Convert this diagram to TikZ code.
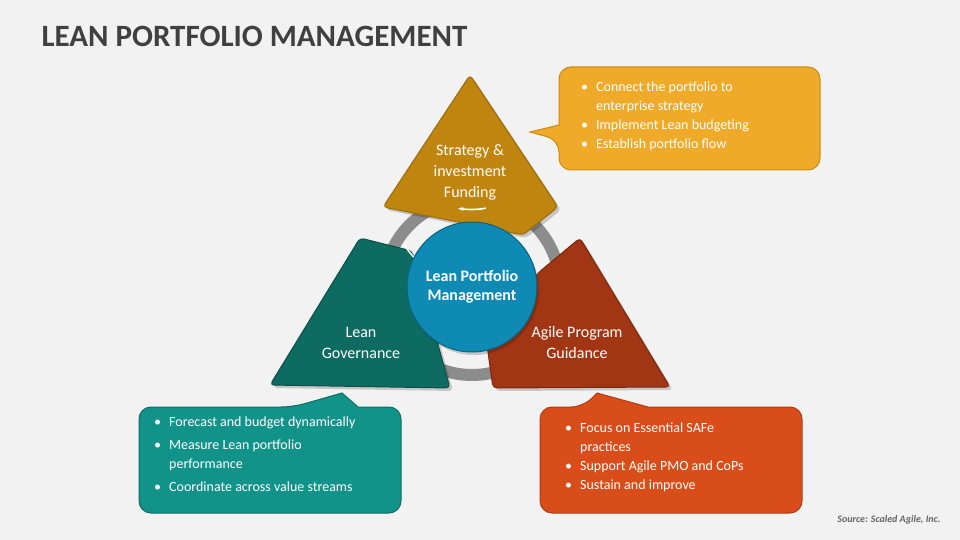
\documentclass[tikz,border=0pt]{standalone}
\usepackage{fontspec}
\setmainfont{Carlito}
\usetikzlibrary{arrows.meta}
\definecolor{bg}{HTML}{F2F2F2}
\definecolor{ttl}{HTML}{404040}
\definecolor{gold}{HTML}{C0850F}
\definecolor{goldD}{HTML}{9A6A0A}
\definecolor{orbox}{HTML}{EFAA2A}
\definecolor{orboxD}{HTML}{C98A12}
\definecolor{tealT}{HTML}{0E6B62}
\definecolor{tealD}{HTML}{0A4F48}
\definecolor{tealB}{HTML}{12938A}
\definecolor{redT}{HTML}{A23614}
\definecolor{redD}{HTML}{7A280F}
\definecolor{redB}{HTML}{D94D1A}
\definecolor{redBD}{HTML}{B03C12}
\definecolor{blueC}{HTML}{0E8AB5}
\definecolor{ringG}{HTML}{8C8C8C}
\tikzset{x=1pt,y=-1pt,
 tri/.style={rounded corners=4pt,line width=1pt},
 lbl/.style={text=white,font=\bfseries\fontsize{16}{19}\selectfont,align=center},
 blt/.style={text=white,font=\bfseries\fontsize{14}{17}\selectfont,align=left,anchor=north west,inner sep=0pt},
 shd/.style={fill=black,opacity=0.18}}
\newcommand{\itm}[1]{\makebox[15pt][l]{\textbullet}#1}
\newcommand{\cnt}[1]{\hspace*{15pt}#1}
\begin{document}
\begin{tikzpicture}
\fill[bg] (0,0) rectangle (960,540);
\node[anchor=west,text=ttl,font=\bfseries\fontsize{31}{36}\selectfont] (title) at (38,36) {LEAN PORTFOLIO MANAGEMENT};
% ring
\coordinate (c) at (472,287);
\draw[ringG,line width=12pt] (c) circle[radius=88];
\draw[white,line width=1.6pt,-{Stealth[length=5pt]}] ([shift={(40:82)}]c) arc[start angle=-40,end angle=-24,radius=82];
% triangles (shadows)
\fill[shd,rounded corners=4pt] (473,78)--(561,210)--(526,238)--(386,210)--cycle;
\fill[shd,rounded corners=4pt] (363,241)--(415,254)--(453,391)--(273,388)--cycle;
\fill[shd,rounded corners=4pt] (583,241)--(673,390)--(496,391)--(490,348)--(541,276)--cycle;
\draw[tri,fill=gold,draw=goldD] (470,75)--(558,207)--(523,235)--(383,207)--cycle;
\draw[tri,fill=tealT,draw=tealD] (360,238)--(412,251)--(450,388)--(270,385)--cycle;
\draw[tri,fill=redT,draw=redD] (580,238)--(670,387)--(493,388)--(487,345)--(538,273)--cycle;
% white arrow on ring bottom and arc top-left (visible segments)
\draw[white,line width=1.6pt,-{Stealth[length=5pt]}] ([shift={(-80:80)}]c) arc[start angle=80,end angle=100,radius=80];
\draw[white,line width=1.6pt] ([shift={(-148:80)}]c) arc[start angle=148,end angle=128,radius=80];
% center circle
\fill[black,opacity=0.18] (474,290) circle[radius=65];
\node[circle,fill=blueC,draw=blueC!70!black,line width=1pt,minimum size=130pt,inner sep=0pt] (ctr) at (c) {};
\node[lbl] (ctrl) at (c) {Lean Portfolio\\Management};
\node[lbl,font=\fontsize{16}{21}\selectfont] (t1) at (470,172) {Strategy \&\\investment\\Funding};
\node[lbl,font=\fontsize{16}{21}\selectfont] (t2) at (361,343) {Lean\\Governance};
\node[lbl,font=\fontsize{16}{21}\selectfont] (t3) at (577,343) {Agile Program\\Guidance};
% callouts
\draw[fill=orbox,draw=orboxD,line width=1pt,rounded corners=12pt] (559,67)--(820,67)--(820,170)--(559,170)--(559,140)[sharp corners]--(530,132)--(559,125)[rounded corners=12pt]--cycle;
\node[blt,font=\fontsize{14}{19}\selectfont] (b1) at (581,82) {\itm{Connect the portfolio to}\\\cnt{enterprise strategy}\\\itm{Implement Lean budgeting}\\\itm{Establish portfolio flow}};
\draw[fill=tealB,draw=tealB!75!black,line width=1pt,rounded corners=12pt] (139,407)--(293,407)[sharp corners]--(342,393)--(358,407)[rounded corners=12pt]--(401,407)--(401,513)--(139,513)--cycle;
\node[blt,font=\fontsize{14}{19}\selectfont] (b2) at (154,417) {\itm{Forecast and budget dynamically}\\[4pt]\itm{Measure Lean portfolio}\\\cnt{performance}\\[4pt]\itm{Coordinate across value streams}};
\draw[fill=redB,draw=redBD,line width=1pt,rounded corners=12pt] (540,407)--(583,407)[sharp corners]--(597,393)--(648,407)[rounded corners=12pt]--(802,407)--(802,513)--(540,513)--cycle;
\node[blt,font=\fontsize{14}{19}\selectfont] (b3) at (565,423) {\itm{Focus on Essential SAFe}\\\cnt{practices}\\\itm{Support Agile PMO and CoPs}\\\itm{Sustain and improve}};
\node[anchor=east,text=ttl!80,font=\bfseries\itshape\fontsize{10}{12}\selectfont] (src) at (944,520) {Source: Scaled Agile, Inc.};
\end{tikzpicture}
\end{document}
